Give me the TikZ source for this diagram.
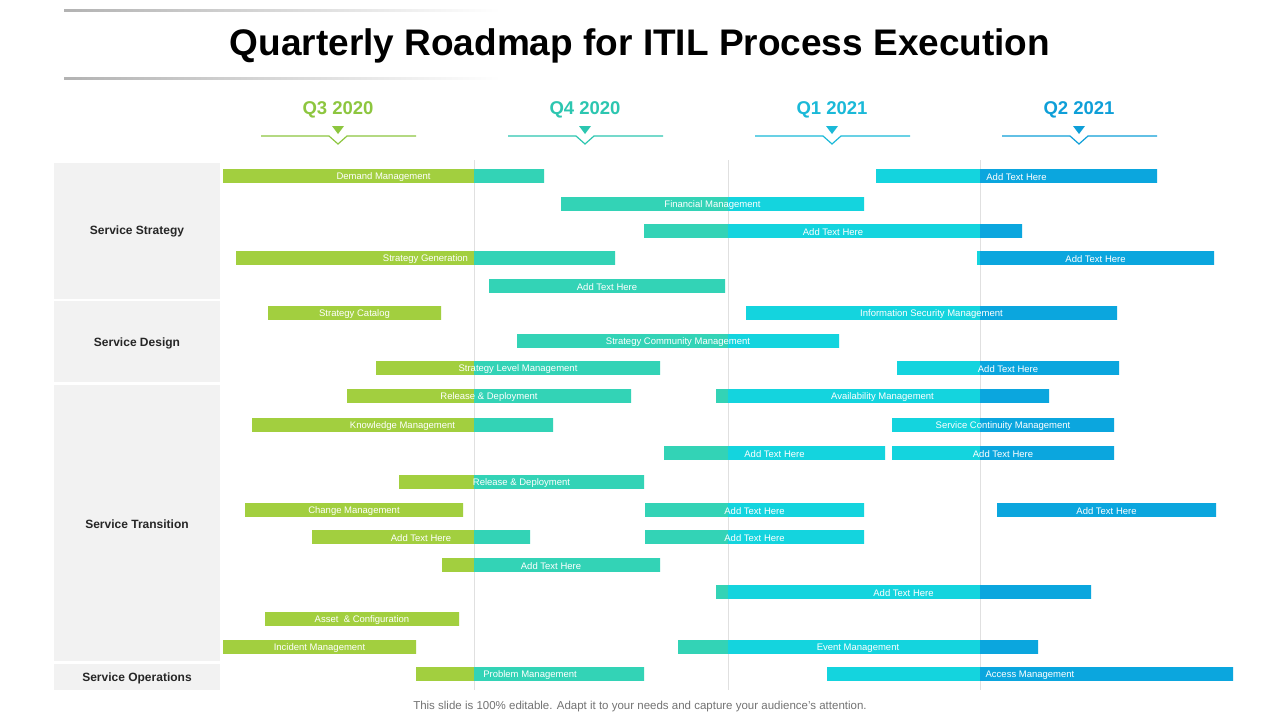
\documentclass[tikz,border=0pt]{standalone}
\usepackage{fontspec}
\setmainfont{Liberation Sans}
\definecolor{cG}{HTML}{A2CF3F}
\definecolor{cT}{HTML}{33D3B6}
\definecolor{cC}{HTML}{14D4DE}
\definecolor{cB}{HTML}{0BA6DE}
\definecolor{qG}{HTML}{8DC63F}
\definecolor{qT}{HTML}{2CC6B0}
\definecolor{qC}{HTML}{1AB9D8}
\definecolor{qB}{HTML}{0E9FD8}
\definecolor{panel}{HTML}{F2F2F2}
\tikzset{barlbl/.style={text=white,font=\fontsize{9.5}{10}\selectfont,inner sep=0pt,yshift=-1pt},
 sect/.style={font=\bfseries\fontsize{12}{14}\selectfont,text=black!85},
 qlbl/.style={font=\bfseries\fontsize{18.5}{20}\selectfont},
 grid/.style={draw=black!12,line width=0.6pt}}
\newcommand\rmbar[5]{%
 \begin{scope}\clip (#1,#3-7) rectangle (#2,#3+7);
 \fill[cG] (0,#3-7) rectangle (474,#3+7);
 \fill[cT] (474,#3-7) rectangle (728,#3+7);
 \fill[cC] (728,#3-7) rectangle (980,#3+7);
 \fill[cB] (980,#3-7) rectangle (1280,#3+7);
 \end{scope}
 \node[barlbl] (#5) at ({(#1+#2)/2},#3) {#4};}
\newcommand\qhead[3]{%
 \node[qlbl,text=#2] (q#3) at (#1,110) {#3};
 \draw[#2,line width=1.2pt] (#1-77,136) -- (#1-9,136) -- (#1,144) -- (#1+9,136) -- (#1+78,136);
 \fill[#2] (#1-6,126) -- (#1+6,126) -- (#1,134) -- cycle;}
\begin{document}
\begin{tikzpicture}[x=1pt,y=-1pt]
\useasboundingbox (0,0) rectangle (1280,720);
\fill[white] (0,0) rectangle (1280,720);
\shade[left color=black!30,right color=white] (64,9) rectangle (500,11);
\shade[left color=black!30,right color=white] (64,77) rectangle (500,79);
\node[font=\bfseries\fontsize{37}{40}\selectfont] (title) at (640,46) {Quarterly Roadmap for ITIL Process Execution};
\qhead{338}{qG}{Q3 2020}
\qhead{585}{qT}{Q4 2020}
\qhead{832}{qC}{Q1 2021}
\qhead{1079}{qB}{Q2 2021}
\fill[panel] (54,163) rectangle (220,299);
\fill[panel] (54,301) rectangle (220,382);
\fill[panel] (54,385) rectangle (220,661);
\fill[panel] (54,664) rectangle (220,690);
\node[sect] (s1) at (137,231) {Service Strategy};
\node[sect] (s2) at (137,343) {Service Design};
\node[sect] (s3) at (137,524) {Service Transition};
\node[sect] (s4) at (137,678) {Service Operations};
\foreach \gx in {474,728,980} \draw[grid] (\gx,160) -- (\gx,690);
\rmbar{223}{544}{176}{Demand Management}{b1}
\rmbar{876}{1157}{176}{Add Text Here}{b2}
\rmbar{561}{864}{204}{Financial Management}{b3}
\rmbar{644}{1022}{231}{Add Text Here}{b4}
\rmbar{236}{615}{258}{Strategy Generation}{b5}
\rmbar{977}{1214}{258}{Add Text Here}{b6}
\rmbar{489}{725}{286}{Add Text Here}{b7}
\rmbar{268}{441}{313}{Strategy Catalog}{b8}
\rmbar{746}{1117}{313}{Information Security Management}{b9}
\rmbar{517}{839}{341}{Strategy Community Management}{b10}
\rmbar{376}{660}{368}{Strategy Level Management}{b11}
\rmbar{897}{1119}{368}{Add Text Here}{b12}
\rmbar{347}{631}{396}{Release \& Deployment}{b13}
\rmbar{716}{1049}{396}{Availability Management}{b14}
\rmbar{252}{553}{425}{Knowledge Management}{b15}
\rmbar{892}{1114}{425}{Service Continuity Management}{b16}
\rmbar{664}{885}{453}{Add Text Here}{b17}
\rmbar{892}{1114}{453}{Add Text Here}{b18}
\rmbar{399}{644}{482}{Release \& Deployment}{b19}
\rmbar{245}{463}{510}{Change Management}{b20}
\rmbar{645}{864}{510}{Add Text Here}{b21}
\rmbar{997}{1216}{510}{Add Text Here}{b22}
\rmbar{312}{530}{537}{Add Text Here}{b23}
\rmbar{645}{864}{537}{Add Text Here}{b24}
\rmbar{442}{660}{565}{Add Text Here}{b25}
\rmbar{716}{1091}{592}{Add Text Here}{b26}
\rmbar{265}{459}{619}{Asset ~\& Configuration}{b27}
\rmbar{223}{416}{647}{Incident Management}{b28}
\rmbar{678}{1038}{647}{Event Management}{b29}
\rmbar{416}{644}{674}{Problem Management}{b30}
\rmbar{827}{1233}{674}{Access Management}{b31}
\node[text=black!55,font=\fontsize{11.5}{12}\selectfont] (foot) at (640,707) {This slide is 100\% editable. Adapt it to your needs and capture your audience's attention.};
\end{tikzpicture}
\end{document}
